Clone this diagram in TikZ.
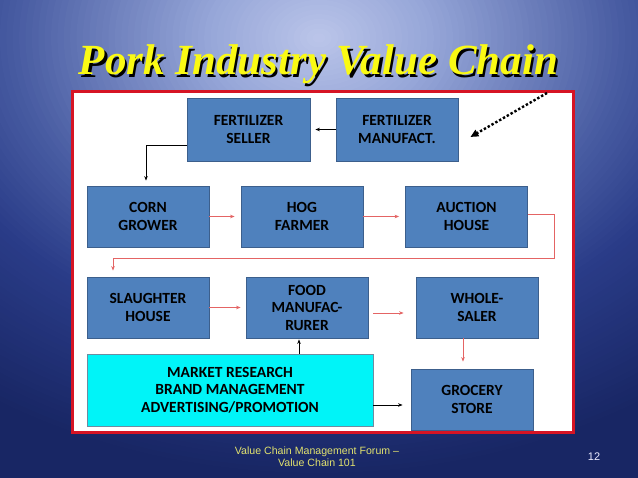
\documentclass[tikz,border=0pt]{standalone}
\usepackage{fontspec}
\setmainfont{Carlito}
\newfontfamily\titlefont{Liberation Serif}
\newfontfamily\footfont{Liberation Sans}
\usetikzlibrary{arrows.meta}
\definecolor{boxblue}{RGB}{79,129,189}
\definecolor{boxedge}{RGB}{60,95,140}
\definecolor{cyanbox}{RGB}{0,244,248}
\definecolor{cyanedge}{RGB}{110,140,160}
\definecolor{arrred}{RGB}{228,100,100}
\definecolor{panelred}{RGB}{214,20,36}
\definecolor{titleyellow}{RGB}{250,250,20}
\definecolor{footyellow}{RGB}{226,226,110}
\definecolor{bgA}{RGB}{188,198,234}
\definecolor{bgB}{RGB}{150,166,216}
\definecolor{bgC}{RGB}{72,92,162}
\definecolor{bgD}{RGB}{42,60,136}
\definecolor{bgE}{RGB}{24,38,100}
\begin{document}
\begin{tikzpicture}[x=1pt,y=-1pt,
  box/.style={draw=boxedge, line width=0.8pt, fill=boxblue, minimum width=122pt, minimum height=61pt, inner sep=0pt, align=center, font=\fontsize{15.5}{17.5}\selectfont\bfseries},
  redarr/.style={draw=arrred, line width=0.8pt, -{Stealth[length=4.5pt,width=3.5pt]}},
  blkarr/.style={draw=black, line width=0.8pt, -{Stealth[length=4.5pt,width=3.5pt]}},
]
\useasboundingbox (0,0) rectangle (638,478);
% background gradient built from nested ellipses
\begin{scope}
\clip (0,0) rectangle (638,478);
\fill[bgE] (0,0) rectangle (638,478);
\foreach \d [evaluate=\d as \p using {(92-\d)/28*100}] in {92,91,...,64}
  \fill[bgD!\p!bgE] (319,38) ellipse [x radius=6.38*\d, y radius=4.78*\d];
\foreach \d [evaluate=\d as \p using {(64-\d)/16*100}] in {63,62,...,48}
  \fill[bgC!\p!bgD] (319,38) ellipse [x radius=6.38*\d, y radius=4.78*\d];
\foreach \d [evaluate=\d as \p using {(48-\d)/30*100}] in {47,46,...,18}
  \fill[bgB!\p!bgC] (319,38) ellipse [x radius=6.38*\d, y radius=4.78*\d];
\foreach \d [evaluate=\d as \p using {(18-\d)/18*100}] in {17,16,...,1}
  \fill[bgA!\p!bgB] (319,38) ellipse [x radius=6.38*\d, y radius=4.78*\d];
\end{scope}
% title with its shadow
\node[anchor=base, text=titleyellow, font=\titlefont\bfseries\itshape\fontsize{43}{50}\selectfont] (title) at (318.5,75) {\rlap{\kern2.2pt\raisebox{-2.2pt}{\color{black}Pork Industry Value Chain}}Pork Industry Value Chain};
% panel
\node[draw=panelred, line width=3pt, fill=white, minimum width=501pt, minimum height=341pt, inner sep=0pt] (panel) at (322.5,262.5) {};
% boxes
\node[box, minimum width=123pt, minimum height=63pt, text=black] (seller) at (248.5,129.5) {FERTILIZER\\SELLER};
\node[box, minimum height=63pt, text=black] (manuf) at (397,129.5) {FERTILIZER\\MANUFACT.};
\node[box, text=black] (corn) at (148,216.5) {CORN\\GROWER};
\node[box, text=black] (hog) at (302,216.5) {HOG\\FARMER};
\node[box, text=black] (auction) at (466.5,216.5) {AUCTION\\HOUSE};
\node[box, text=black] (slaughter) at (148,307.5) {SLAUGHTER\\HOUSE};
\node[box, text=black] (food) at (307,307.5) {FOOD\\MANUFAC-\\RURER};
\node[box, text=black] (whole) at (477,307.5) {WHOLE-\\SALER};
\node[box, fill=cyanbox, draw=cyanedge, minimum width=286pt, minimum height=72pt, text=black] (market) at (230,390) {MARKET RESEARCH\\BRAND MANAGEMENT\\ADVERTISING/PROMOTION};
\node[box, text=black] (grocery) at (472,399.5) {GROCERY\\STORE};
% connectors
\draw[blkarr, shorten >=5pt] (manuf.west) -- (seller.east);
\draw[blkarr] ([yshift=-15.5pt]seller.west) -| ([xshift=-2pt,yshift=5pt]corn.north);
\draw[redarr, shorten >=6pt] (corn.east) -- (hog.west);
\draw[redarr, shorten >=6pt] (hog.east) -- (auction.west);
\draw[redarr] ([yshift=2pt]auction.east) -- ++(26,0) -- ++(0,44) -| ([xshift=-35pt,yshift=6pt]slaughter.north);
\draw[redarr, shorten >=5pt] (slaughter.east) -- (food.west);
\draw[redarr, shorten <=5pt, shorten >=12pt] ([yshift=-5.5pt]food.east) -- ([yshift=-5.5pt]whole.west);
\draw[redarr, shorten >=7pt] ([xshift=-14pt]whole.south) -- ([xshift=-9pt]grocery.north);
\draw[blkarr, shorten >=8pt] ([yshift=-15pt]market.east) -- ([yshift=-5.5pt]grocery.west);
\draw[blkarr, shorten >=1pt] ([xshift=69pt]market.north) -- ([xshift=-8pt]food.south);
\coordinate (dotstart) at (547,93);
\draw[line width=2.4pt, dotted, -{Triangle[length=8pt,width=7pt]}] (dotstart) -- ([xshift=12pt,yshift=-7.5pt]manuf.east);
% footer
\node[align=center, text=footyellow, font=\footfont\fontsize{10.6}{12.2}\selectfont] (footer) at (317,457) {Value Chain Management Forum –\\Value Chain 101};
\node[text=white!92!blue, font=\footfont\fontsize{11}{13}\selectfont] (pagenum) at (594,457) {12};
\end{tikzpicture}
\end{document}
